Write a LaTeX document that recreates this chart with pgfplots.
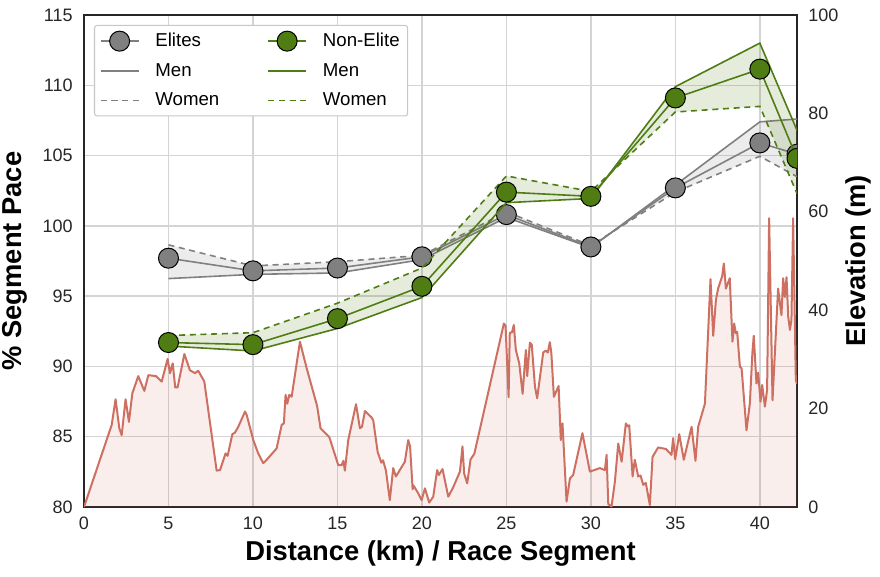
\documentclass[border=0pt]{standalone}
\usepackage{fontspec}
\setmainfont{Liberation Sans}
\usepackage{pgfplots}
\usepackage{pgfplotstable}
\pgfplotsset{compat=1.18}
\definecolor{elitegray}{RGB}{128,128,128}
\definecolor{negreen}{RGB}{79,125,20}
\definecolor{elev}{RGB}{205,112,98}
\definecolor{gridc}{RGB}{212,212,212}
\definecolor{tickc}{RGB}{38,38,38}

\pgfplotstableread{
km elev
0 0
1.64 16.7
1.87 21.9
2.09 16.0
2.23 14.6
2.46 21.9
2.66 17.3
2.86 23.1
3.21 26.6
3.57 23.6
3.81 26.8
4.26 26.6
4.60 25.5
4.95 30.1
5.09 27.2
5.25 29.2
5.40 24.3
5.54 24.3
5.94 31.1
6.27 27.8
6.57 27.2
6.76 27.7
7.12 25.5
7.85 7.4
8.05 7.5
8.38 10.9
8.50 10.4
8.78 14.8
8.93 15.1
9.13 16.3
9.53 19.4
9.63 18.7
10.02 13.6
10.31 10.9
10.61 8.9
10.81 9.6
11.40 11.9
11.70 16.7
11.83 17.0
11.93 22.8
12.03 21.0
12.15 22.8
12.29 22.4
12.78 33.6
13.18 28.2
13.80 20.5
14.00 16.0
14.52 14.2
15.05 8.5
15.25 8.5
15.35 9.4
15.44 7.4
15.64 13.6
16.10 20.9
16.33 16.0
16.45 16.3
16.63 19.5
17.02 18.2
17.12 17.6
17.38 11.2
17.60 9.0
17.70 9.5
17.87 7.4
18.10 1.4
18.30 7.9
18.46 6.2
18.99 9.2
19.19 13.6
19.30 12.3
19.45 3.6
19.50 4.4
19.78 2.8
19.98 1.4
20.18 3.8
20.43 0.9
20.67 2.1
20.90 7.5
21.00 6.5
21.22 7.7
21.56 2.1
21.85 4.0
22.25 7.2
22.40 12.3
22.50 6.8
22.68 4.8
22.88 9.7
23.10 10.8
24.85 37.3
24.95 36.8
25.13 22.3
25.20 35.4
25.33 35.5
25.44 37.0
25.56 31.9
25.76 29.2
25.96 23.0
26.15 31.9
26.23 26.6
26.39 33.4
26.50 33.0
26.69 24.5
26.82 22.1
27.18 31.4
27.33 31.8
27.45 31.4
27.57 33.5
27.66 31.3
27.81 22.4
28.09 24.6
28.22 13.6
28.32 17.0
28.56 1.1
28.76 5.8
28.95 6.5
29.50 15.0
29.94 7.2
30.53 7.9
30.83 7.5
30.93 10.6
31.03 0.6
31.22 0.1
31.42 5.1
31.62 12.9
31.82 9.2
32.07 17.0
32.17 16.4
32.27 16.6
32.47 6.2
32.60 9.6
32.80 6.2
32.94 6.4
33.10 4.5
33.25 4.9
33.49 0.4
33.65 10.2
33.98 12.1
34.44 11.8
34.77 10.6
34.87 14.0
34.99 9.7
35.23 14.8
35.50 9.6
35.96 16.3
36.19 9.4
36.35 16.3
36.75 21.0
37.08 46.3
37.24 34.8
37.40 42.1
37.53 44.4
37.77 46.9
37.87 49.5
37.99 44.4
38.22 46.5
38.38 33.6
38.48 37.3
38.58 35.3
38.66 35.6
38.82 28.5
38.92 28.2
39.21 15.6
39.41 21.1
39.56 31.4
39.64 34.8
39.80 25.1
39.90 27.3
40.04 21.4
40.14 24.8
40.30 20.4
40.43 23.8
40.55 58.7
40.75 21.7
41.08 44.4
41.28 39.0
41.38 46.5
41.48 42.7
41.58 46.7
41.68 38.7
41.78 36.0
41.87 38.0
41.97 58.7
42.13 25.8
42.2 25.0
}\elevtab

\pgfplotsset{
  common/.style={
    set layers,
    scale only axis,
    width=534.75pt, height=369pt,
    at={(0,0)}, anchor=south west,
    xmin=0, xmax=42.2,
    major tick length=0pt,
    /pgf/number format/assume math mode=true,
    tick label style={font=\fontsize{13.5}{16}\selectfont, text=tickc},
    clip marker paths=true,
  },
  dashed pace/.style={dash pattern=on 4.5pt off 3.5pt},
}

\begin{document}
\begin{tikzpicture}

% Elevation axis (right)
\begin{axis}[common,
  axis x line=none,
  xtick=\empty,
  axis y line*=right,
  y axis line style={draw=none},
  ymin=0, ymax=100,
  ytick={0,20,...,100},
  yticklabel style={xshift=5pt},
  ylabel={Elevation (m)},
  every axis y label/.style={at={(axis description cs:1.0856,0.5)}, rotate=90, anchor=center,
    inner sep=0pt, font=\bfseries\fontsize{20.5}{24}\selectfont},
]
\addplot[draw=none, fill=elev, fill opacity=0.12] table[x=km, y=elev] {\elevtab} \closedcycle;
\addplot[elev, line width=1.5pt, line join=round] table[x=km, y=elev] {\elevtab};
\end{axis}

% Pace axis (left)
\begin{axis}[common,
  ymin=80, ymax=115,
  ytick={80,85,...,115},
  xtick={0,5,...,40},
  grid=major,
  grid style={gridc, line width=1.1pt},
  axis line style={black!85, line width=1pt},
  yticklabel style={xshift=-5pt},
  xticklabel style={yshift=-4pt},
  ylabel={\% Segment Pace},
  xlabel={Distance (km) / Race Segment},
  every axis y label/.style={at={(axis description cs:-0.097,0.5)}, rotate=90, anchor=center,
    inner sep=0pt, font=\bfseries\fontsize{20.5}{24}\selectfont},
  every axis x label/.style={at={(axis description cs:0.5,-0.0935)}, anchor=center,
    inner sep=0pt, font=\bfseries\fontsize{20.5}{24}\selectfont},
  legend columns=2,
  legend cell align=left,
  legend image code/.code={\draw[mark repeat=2,mark phase=2] plot coordinates {(0cm,0cm) (0.5cm,0cm) (1cm,0cm)};},
  legend style={at={(axis description cs:0.014,0.98)}, anchor=north west,
    draw=black!22, line width=0.8pt, rounded corners=2pt, fill=white,
    font=\fontsize{14}{17}\selectfont,
    inner xsep=4pt, inner ysep=4pt, row sep=7pt,
    /tikz/every odd column/.append style={column sep=10pt},
    /tikz/every even column/.append style={column sep=34pt}},
]
% legend entries
\addlegendimage{elitegray, line width=1.2pt, mark=*, mark size=7.5pt, mark options={fill=elitegray, draw=black, line width=0.75pt}}
\addlegendentry{Elites}
\addlegendimage{negreen, line width=1.2pt, mark=*, mark size=7.5pt, mark options={fill=negreen, draw=black, line width=0.75pt}}
\addlegendentry{Non-Elite}
\addlegendimage{elitegray, line width=1.2pt}
\addlegendentry{Men}
\addlegendimage{negreen, line width=1.2pt}
\addlegendentry{Men}
\addlegendimage{elitegray, line width=1.2pt, dashed pace}
\addlegendentry{Women}
\addlegendimage{negreen, line width=1.2pt, dashed pace}
\addlegendentry{Women}

% Elites band
\addplot[forget plot, draw=none, fill=elitegray, fill opacity=0.15] coordinates {
(5,96.25) (10,96.55) (15,96.65) (20,97.6) (25,100.6) (30,98.45) (35,102.9) (40,107.4) (42.2,107.6)
(42.2,103.5) (40,104.95) (35,102.4) (30,98.6) (25,101.0) (20,97.9) (15,97.45) (10,97.15) (5,98.65)
} -- cycle;
% Elites men
\addplot[forget plot, elitegray, line width=1.2pt] coordinates {
(5,96.25) (10,96.55) (15,96.65) (20,97.6) (25,100.6) (30,98.45) (35,102.9) (40,107.4) (42.2,107.6)};
% Elites women
\addplot[forget plot, elitegray, line width=1.2pt, dashed pace] coordinates {
(5,98.65) (10,97.15) (15,97.45) (20,97.9) (25,101.0) (30,98.6) (35,102.4) (40,104.95) (42.2,103.5)};
% Elites combined
\addplot[forget plot, elitegray, line width=1.2pt, mark=*, mark size=7.5pt, mark options={fill=elitegray, draw=black, line width=0.75pt}] coordinates {
(5,97.7) (10,96.8) (15,97.0) (20,97.8) (25,100.8) (30,98.5) (35,102.7) (40,105.9) (42.2,105.1)};

% Non-elite band
\addplot[forget plot, draw=none, fill=negreen, fill opacity=0.15] coordinates {
(5,91.45) (10,91.1) (15,92.7) (20,94.9) (25,101.65) (30,101.95) (35,109.9) (40,113.0) (42.2,106.8)
(42.2,102.3) (40,108.5) (35,108.1) (30,102.45) (25,103.55) (20,97.0) (15,94.5) (10,92.4) (5,92.2)
} -- cycle;
% Non-elite men
\addplot[forget plot, negreen, line width=1.2pt] coordinates {
(5,91.45) (10,91.1) (15,92.7) (20,94.9) (25,101.65) (30,101.95) (35,109.9) (40,113.0) (42.2,106.8)};
% Non-elite women
\addplot[forget plot, negreen, line width=1.2pt, dashed pace] coordinates {
(5,92.2) (10,92.4) (15,94.5) (20,97.0) (25,103.55) (30,102.45) (35,108.1) (40,108.5) (42.2,102.3)};
% Non-elite combined
\addplot[forget plot, negreen, line width=1.2pt, mark=*, mark size=7.5pt, mark options={fill=negreen, draw=black, line width=0.75pt}] coordinates {
(5,91.7) (10,91.55) (15,93.4) (20,95.7) (25,102.4) (30,102.1) (35,109.1) (40,111.15) (42.2,104.8)};
\end{axis}
\path (-63pt,-51.75pt) rectangle (597pt,380.25pt);
\end{tikzpicture}
\end{document}
